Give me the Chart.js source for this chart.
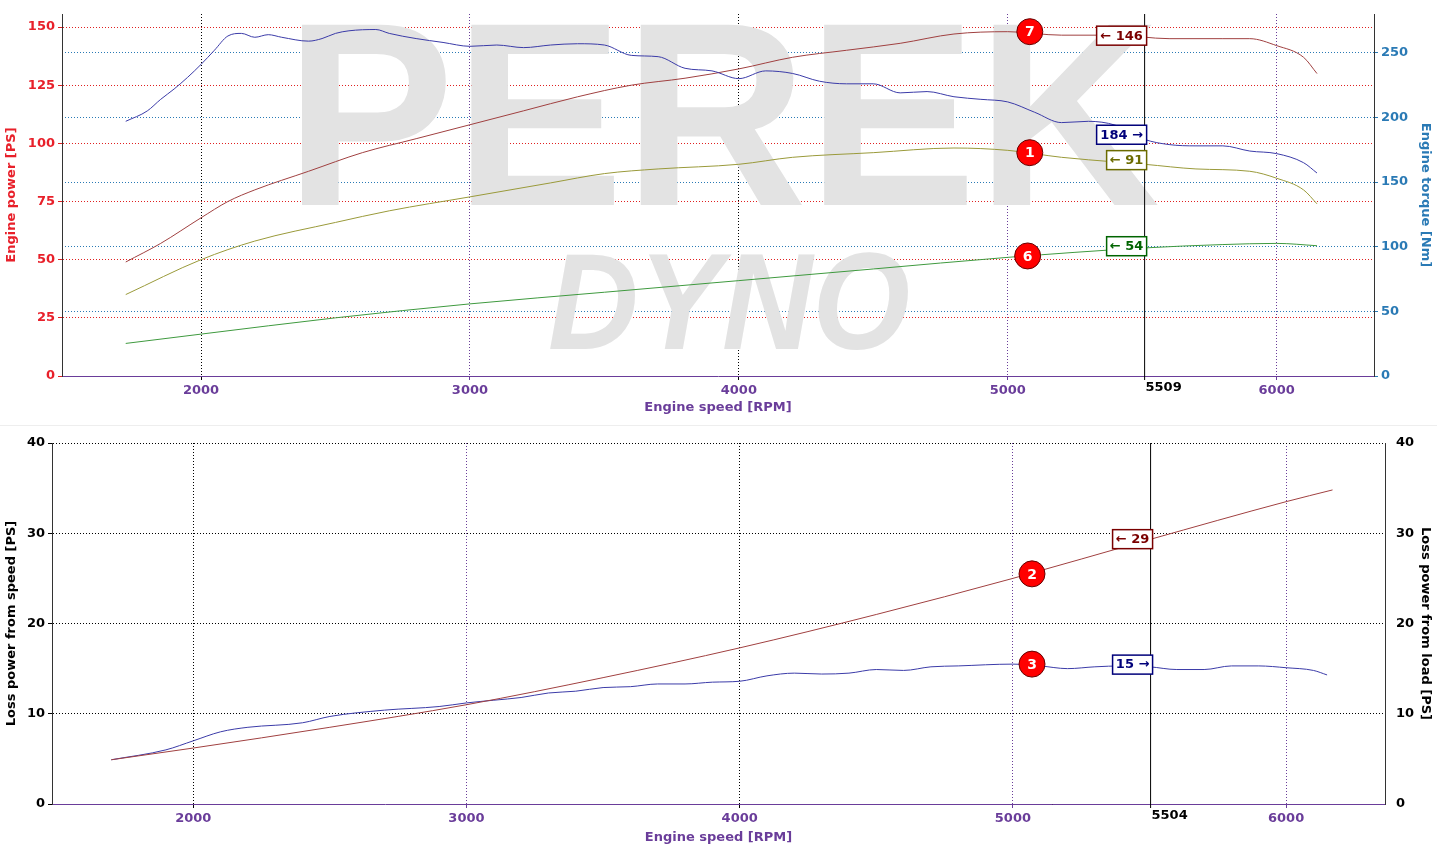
<!DOCTYPE html>
<html><head><meta charset="utf-8">
<script src="https://cdn.jsdelivr.net/npm/chart.js@4/dist/chart.umd.min.js"></script>
<style>
body{margin:0;background:#fff;font-family:"DejaVu Sans",sans-serif}
.box{position:absolute;left:0;width:1437px}
#top{top:0;height:425px}
#bot{top:425px;height:423px;border-top:1px solid #eee}
</style></head><body>
<div class="box" id="top"><canvas id="c1"></canvas></div>
<div class="box" id="bot"><canvas id="c2"></canvas></div>
<script>
// top chart
const rpmPower = [1720,1850,2000,2100,2200,2400,2600,2800,3000,3200,3400,3600,3800,4000,4200,4400,4600,4800,5000,5200,5400,5600,5800,5900,6000,6100,6150];
const enginePower = [49,57,68,75,80,88,96,102,108,114,120,125,128,132,137,140,143,147,148,146.5,146.5,145,145,145,142,137,130];
const rpmWheel = [1720,2000,2200,2500,2700,3000,3300,3500,3700,4000,4200,4500,4800,5000,5200,5400,5509,5700,5900,6000,6100,6150];
const wheelPower = [35,50,58,66,71,77,83,87,89,91,94,96,98,97,94,92,91,89,88,85,80,74];
const rpmLoss = [1720,2000,2500,3000,3500,4000,4500,5000,5500,5800,6000,6150];
const lossPower = [14,18,25,31,36,41,46,51,55,56.5,57,56];
const rpmTorque = [1720,1800,1850,1900,1950,2000,2050,2100,2150,2200,2250,2300,2400,2450,2500,2550,2650,2700,2800,2900,3000,3100,3200,3300,3400,3500,3600,3700,3800,3900,4000,4100,4200,4300,4400,4500,4600,4700,4800,4900,5000,5100,5200,5300,5400,5509,5600,5700,5800,5900,6000,6100,6150];
const torque = [197,205,214,222,231,241,252,263,265,262,264,262,259,261,265,267,268,265,261,258,255,256,254,256,257,256,248,247,238,236,230,236,234,228,226,226,219,220,216,214,212,204,196,197,194,183,179,178,178,174,172,165,157];
const markersTop = [{n:'7',rpm:5082,v:148,axis:'y'},{n:'1',rpm:5082,v:96,axis:'y'},{n:'6',rpm:5074,v:51.6,axis:'y'}];
const cursorTop = 5509;
const tagsTop = [{t:'← 146',v:146.5,axis:'y',c:'#7a0000'},{t:'184 →',v:187,axis:'y1',c:'#00007a'},{t:'← 91',v:93,axis:'y',c:'#6b6b00',w:40},{t:'← 54',v:56,axis:'y',c:'#006400',w:40}];
const xTicks = [2000,3000,4000,5000,6000];
const powerTicks = [0,25,50,75,100,125,150];
const torqueTicks = [0,50,100,150,200,250];
// bottom chart
const rpmSpeed = [1700,2000,2500,3000,3500,4000,4500,5000,5500,6000,6170];
const speedLoss = [4.9,6.2,8.5,11,14,17.3,21,25,29.3,33.5,34.8];
const rpmLoad = [1700,1900,2000,2100,2200,2400,2500,2700,2900,3000,3100,3200,3300,3400,3500,3600,3700,3800,3900,4000,4100,4200,4300,4400,4500,4600,4700,4800,5000,5100,5200,5300,5400,5500,5600,5700,5800,5900,6000,6100,6150];
const loadLoss = [4.9,6,7,8,8.5,9,9.7,10.4,10.8,11.2,11.5,11.8,12.3,12.5,12.9,13,13.3,13.3,13.5,13.6,14.2,14.5,14.4,14.5,14.9,14.8,15.2,15.3,15.5,15.3,15,15.2,15.3,15.2,14.9,14.9,15.3,15.3,15.1,14.8,14.3];
const markersBot = [{n:'2',rpm:5070,v:25.5,axis:'y'},{n:'3',rpm:5070,v:15.5,axis:'y'}];
const cursorBot = 5504;
const tagsBot = [{t:'← 29',v:29.4,axis:'y',c:'#7a0000',w:40},{t:'15 →',v:15.5,axis:'y',c:'#00007a',w:40}];
const lossTicks = [0,10,20,30,40];

const purple = '#6a3d9a';
const pts = (xs, ys) => xs.map((x, i) => ({x, y: ys[i]}));
const lineDs = (data, color, axis) => ({data, borderColor: color, borderWidth: 1, pointRadius: 0, cubicInterpolationMode: 'monotone', yAxisID: axis});
const fixTicks = vals => s => { s.ticks = vals.map(value => ({value})); };

function overlay(cursor, markers, tags, wm) {
  return {
    id: 'overlay',
    beforeDatasetsDraw(chart) {
      if (!wm) return;
      const ctx = chart.ctx;
      ctx.save();
      ctx.fillStyle = '#e3e3e3';
      ctx.font = 'bold 262px "Liberation Sans"';
      const w = ctx.measureText('PEREK').width;
      ctx.translate(285, 205);
      ctx.scale(875 / w, 1);
      ctx.fillText('PEREK', 0, 0);
      ctx.restore();
      ctx.save();
      ctx.fillStyle = '#e3e3e3';
      ctx.font = 'italic bold 138px "Liberation Sans"';
      const w2 = ctx.measureText('DYNO').width;
      ctx.translate(548, 349);
      ctx.scale(362 / w2, 1);
      ctx.fillText('DYNO', 0, 0);
      ctx.restore();
    },
    afterDatasetsDraw(chart) {
      const ctx = chart.ctx, a = chart.chartArea, xs = chart.scales.x;
      const cx = xs.getPixelForValue(cursor);
      ctx.save();
      ctx.strokeStyle = '#000'; ctx.lineWidth = 1;
      ctx.beginPath(); ctx.moveTo(cx, a.top); ctx.lineTo(cx, a.bottom + 4); ctx.stroke();
      ctx.font = 'bold 13px "DejaVu Sans"'; ctx.fillStyle = '#000'; ctx.textAlign = 'center'; ctx.textBaseline = 'top';
      ctx.fillText(String(cursor), cx + 19, a.bottom + 5);
      tags.forEach(t => {
        const y = chart.scales[t.axis].getPixelForValue(t.v);
        const w = t.w || 50;
        ctx.fillStyle = '#fff'; ctx.fillRect(cx + 2 - w, y - 9, w, 19);
        ctx.strokeStyle = t.c; ctx.lineWidth = 1.5; ctx.strokeRect(cx + 2 - w, y - 9, w, 19);
        ctx.fillStyle = t.c; ctx.textAlign = 'center'; ctx.textBaseline = 'middle';
        ctx.fillText(t.t, cx + 2 - w / 2, y + 1);
      });
      markers.forEach(m => {
        const x = xs.getPixelForValue(m.rpm), y = chart.scales[m.axis].getPixelForValue(m.v);
        ctx.beginPath(); ctx.arc(x, y, 13, 0, Math.PI * 2);
        ctx.fillStyle = '#f00'; ctx.fill(); ctx.strokeStyle = '#600'; ctx.lineWidth = 1; ctx.stroke();
        ctx.fillStyle = '#fff'; ctx.font = 'bold 14px "DejaVu Sans"'; ctx.textAlign = 'center'; ctx.textBaseline = 'middle';
        ctx.fillText(m.n, x, y + 1);
      });
      ctx.restore();
    }
  };
}

const tickFont = {family: '"DejaVu Sans"', weight: 'bold', size: 13};
const xScale = (h) => ({
  type: 'linear', min: 1483, max: 6362,
  afterBuildTicks: fixTicks(xTicks),
  ticks: {color: purple, font: tickFont, callback: v => String(v)},
  grid: {color: c => [3000,5000,6000].includes(c.tick.value) ? purple : '#000', tickLength: 4},
  border: {dash: [1, 2], color: purple},
  title: {display: true, text: 'Engine speed [RPM]', color: purple, font: tickFont, padding: {top: 0, bottom: h > 46 ? 10 : 4}},
  afterFit: s => { s.height = h; }
});

new Chart(document.getElementById('c1'), {
  type: 'line',
  data: {datasets: [
    lineDs(pts(rpmTorque, torque), '#3b3ba8', 'y1'),
    lineDs(pts(rpmPower, enginePower), '#a04040', 'y'),
    lineDs(pts(rpmWheel, wheelPower), '#9a9a3a', 'y'),
    lineDs(pts(rpmLoss, lossPower), '#3f9a3f', 'y')
  ]},
  options: {
    responsive: true, maintainAspectRatio: false, animation: false,
    layout: {padding: {top: 14}},
    plugins: {legend: {display: false}, tooltip: {enabled: false}},
    scales: {
      x: xScale(49),
      y: {min: 0, max: 155.6, afterBuildTicks: fixTicks(powerTicks), ticks: {color: '#e8202a', font: tickFont},
        grid: {color: '#e02020', tickLength: 4}, border: {dash: [1, 2], color: '#333'},
        title: {display: true, text: 'Engine power [PS]', color: '#e8202a', font: tickFont, padding: {top: 4, bottom: 0}},
        afterFit: s => { s.width = 62; }},
      y1: {position: 'right', min: 0, max: 280, afterBuildTicks: fixTicks(torqueTicks), ticks: {color: '#2a7ab5', font: tickFont},
        grid: {color: '#2a7ab5', tickLength: 4}, border: {dash: [1, 2], color: '#333'},
        title: {display: true, text: 'Engine torque [Nm]', color: '#2a7ab5', font: tickFont, padding: {top: 4, bottom: 0}},
        afterFit: s => { s.width = 63; }}
    }
  },
  plugins: [overlay(cursorTop, markersTop, tagsTop, true)]
});

new Chart(document.getElementById('c2'), {
  type: 'line',
  data: {datasets: [
    lineDs(pts(rpmSpeed, speedLoss), '#a04040', 'y'),
    lineDs(pts(rpmLoad, loadLoss), '#3b3ba8', 'y')
  ]},
  options: {
    responsive: true, maintainAspectRatio: false, animation: false,
    layout: {padding: {top: 17}},
    plugins: {legend: {display: false}, tooltip: {enabled: false}},
    scales: {
      x: xScale(45),
      y: {min: 0, max: 40, afterBuildTicks: fixTicks(lossTicks), ticks: {color: '#000', font: tickFont},
        grid: {color: '#000', tickLength: 4}, border: {dash: [1, 2], color: '#333'},
        title: {display: true, text: 'Loss power from speed [PS]', color: '#000', font: tickFont, padding: {top: 4, bottom: 0}},
        afterFit: s => { s.width = 52; }},
      y1: {position: 'right', min: 0, max: 40, afterBuildTicks: fixTicks(lossTicks), ticks: {color: '#000', font: tickFont},
        grid: {display: false}, border: {color: '#333'},
        title: {display: true, text: 'Loss power from load [PS]', color: '#000', font: tickFont, padding: {top: 4, bottom: 0}},
        afterFit: s => { s.width = 52; }}
    }
  },
  plugins: [overlay(cursorBot, markersBot, tagsBot, false)]
});
</script>
</body></html>
